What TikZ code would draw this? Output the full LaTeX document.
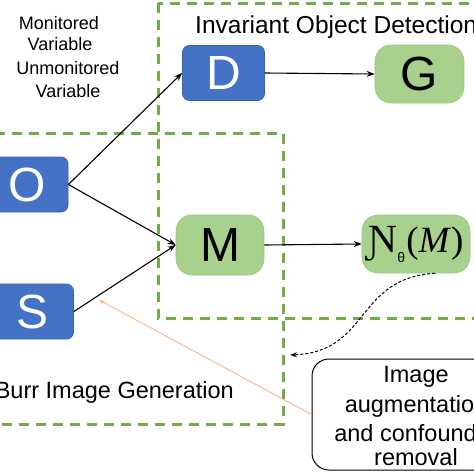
\documentclass[tikz,border=0pt]{standalone}
\usepackage{fontspec}
\setmainfont{Liberation Sans}
\newfontfamily\nfont{Liberation Serif}
\usetikzlibrary{arrows.meta}
\definecolor{bluefill}{HTML}{4472C4}
\definecolor{blueline}{HTML}{3B63AD}
\definecolor{greenfill}{HTML}{A9D18E}
\definecolor{greenedge}{HTML}{9CC680}
\definecolor{greenline}{HTML}{70AD47}
\definecolor{orangeline}{HTML}{F4B183}
\begin{document}
\begin{tikzpicture}[x=1pt,y=-1pt,
  bluebox/.style={draw=blueline, line width=0.8pt, fill=bluefill, rounded corners=7pt,
    minimum width=82pt, minimum height=55pt, inner sep=0pt, text=white,
    font=\fontsize{48}{48}\selectfont},
  greenbox/.style={draw=greenedge, line width=0.6pt, fill=greenfill, rounded corners=16pt,
    inner sep=0pt, text=black, font=\fontsize{48}{48}\selectfont},
  frame/.style={draw=greenline, line width=3pt, dash pattern=on 10pt off 7pt},
  arr/.style={-{Stealth[length=8pt,width=6pt]}, line width=1.1pt, black},
  lbl/.style={anchor=base, inner sep=0pt, font=\fontsize{18}{18}\selectfont},
  boxtxt/.style={anchor=base, inner sep=0pt, font=\fontsize{23.5}{23.5}\selectfont}]
\useasboundingbox (0,0) rectangle (474,474);
\clip (0,0) rectangle (474,474);
\fill[white] (0,0) rectangle (474,474);
% dashed frames
\draw[frame] (158,3) rectangle (500,318);
\draw[frame] (-30,133) rectangle (283,424);
% titles
\node[anchor=base west, inner sep=0pt, font=\fontsize{24.5}{24.5}\selectfont] (title1) at (195,33) {Invariant Object Detection};
\node[anchor=base east, inner sep=0pt, font=\fontsize{23.5}{23.5}\selectfont] (title2) at (234,398) {Burr Image Generation};
\node[lbl] (l1) at (59,29) {Monitored};
\node[lbl] (l2) at (60,50) {Variable};
\node[lbl] (l3) at (68,74) {Unmonitored};
\node[lbl] (l4) at (68,97) {Variable};
% nodes
\node[bluebox] (D) at (223.5,73) {D};
\node[greenbox, minimum width=89pt, minimum height=58pt] (G) at (419.5,74) {G};
\node[bluebox] (O) at (27,184.5) {O};
\node[greenbox, minimum width=88pt, minimum height=60pt] (M) at (220,245) {M};
\node[bluebox] (S) at (32.5,311.5) {S};
\node[greenbox, minimum width=108pt, minimum height=58pt] (N) at (416,244)
  {{\nfont\fontsize{40}{40}\selectfont Ɲ}\raisebox{-10pt}{\fontsize{14}{14}\selectfont θ}\hspace{1pt}{\nfont\fontsize{37}{37}\selectfont(\textit{M})}};
\node[draw=black, line width=1pt, rounded corners=17pt, minimum width=230pt,
  minimum height=111pt, fill=white, inner sep=0pt] (IA) at (427,414.5) {};
\node[boxtxt] (t1) at (416,382) {Image};
\node[boxtxt] (t2) at (416,412) {augmentation};
\node[boxtxt] (t3) at (416,441) {and confounder};
\node[boxtxt] (t4) at (416,465) {removal};
% connectors
\coordinate (c1) at (290,355);
\coordinate (c2) at (99,300);
\draw[arr] (O.east) -- (D.west);
\draw[arr] (O.east) -- (M.west);
\draw[arr] (S.east) -- (M.west);
\draw[arr] (D.east) -- (G.west);
\draw[arr] (M.east) -- (N.west);
\draw[-{Stealth[length=7pt,width=5pt]}, line width=1pt, dash pattern=on 3pt off 2pt]
  ([xshift=19pt]N.south) .. controls (355,278) and (370,352) .. (c1);
\draw[-{Stealth[length=6pt,width=4pt]}, line width=0.8pt, orangeline] (IA.west) -- (c2);
\end{tikzpicture}
\end{document}
